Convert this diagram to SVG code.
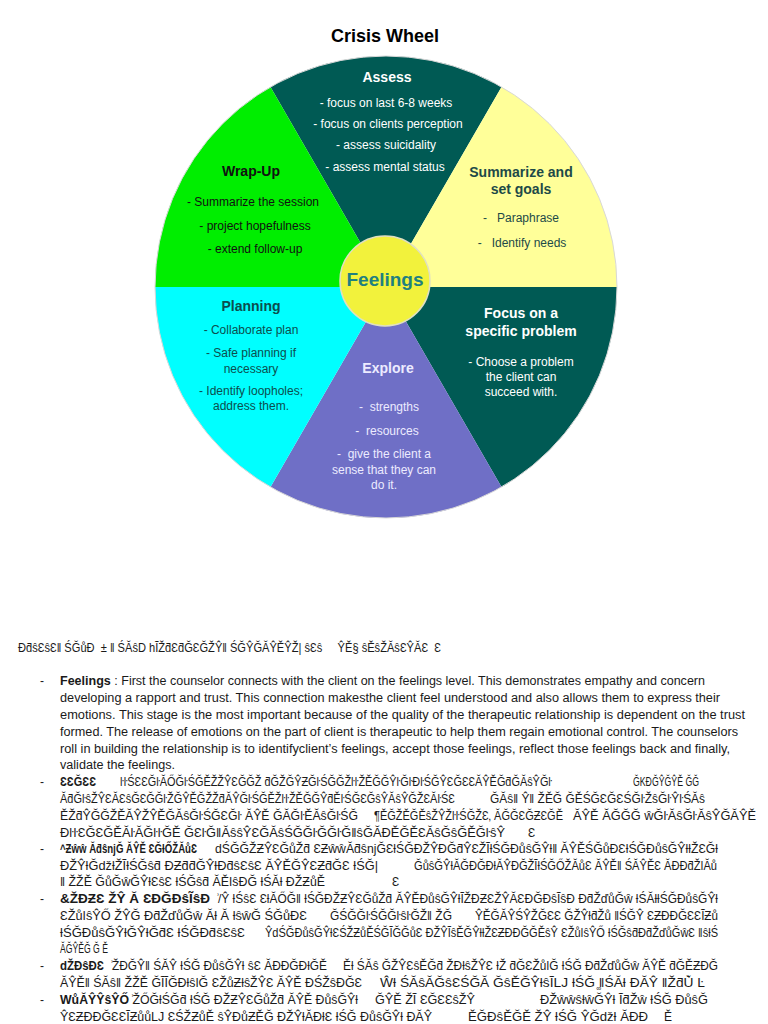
<svg xmlns="http://www.w3.org/2000/svg" width="768" height="1024" viewBox="0 0 768 1024">
<style>
.w{font-family:"Liberation Sans",Arial,sans-serif;text-anchor:middle}
.h{font-weight:bold;font-size:14px}
.i{font-size:12px}
.wh{fill:#ffffff}
.bk{fill:#111111}
.dt{fill:#1d4a48}
.pl{fill:#0c4e4e}
.lv{fill:#ecebff}
.b{font-family:"Liberation Sans",Arial,sans-serif;font-size:12px;fill:#1a1a1a}
.bb{font-weight:bold}
</style>
<rect width="768" height="1024" fill="#ffffff"/>
<text x="385" y="42" class="w" style="font-size:18px;font-weight:bold" fill="#000">Crisis Wheel</text>

<g id="assess">
<path d="M386,287 L270.5,86.95 A231,231 0 0 1 501.5,86.95 Z" fill="#005a54"/>
<text x="387" y="82" class="w h wh">Assess</text>
<text x="386" y="107" class="w i wh">- focus on last 6-8 weeks</text>
<text x="388" y="128" class="w i wh">- focus on clients perception</text>
<text x="386" y="149" class="w i wh">- assess suicidality</text>
<text x="385" y="171" class="w i wh">- assess mental status</text>
</g>
<g id="summarize">
<path d="M386,287 L501.5,86.95 A231,231 0 0 1 617,287 Z" fill="#ffff99"/>
<text x="521" y="177" class="w h dt">Summarize and</text>
<text x="521" y="194" class="w h dt">set goals</text>
<text x="521" y="222" class="w i dt" xml:space="preserve">-   Paraphrase</text>
<text x="522" y="247" class="w i dt" xml:space="preserve">-   Identify needs</text>
</g>
<g id="focus">
<path d="M386,287 L617,287 A231,231 0 0 1 501.5,487.05 Z" fill="#005a54"/>
<text x="521" y="318" class="w h wh">Focus on a</text>
<text x="521" y="336" class="w h wh">specific problem</text>
<text x="521" y="366" class="w i wh">- Choose a problem</text>
<text x="521" y="381" class="w i wh">the client can</text>
<text x="521" y="396" class="w i wh">succeed with.</text>
</g>
<g id="explore">
<path d="M386,287 L501.5,487.05 A231,231 0 0 1 270.5,487.05 Z" fill="#6f6fc6"/>
<text x="388" y="373" class="w h lv">Explore</text>
<text x="389" y="411" class="w i lv" xml:space="preserve">-  strengths</text>
<text x="387" y="435" class="w i lv" xml:space="preserve">-  resources</text>
<text x="384" y="458" class="w i lv" xml:space="preserve">-  give the client a</text>
<text x="384" y="474" class="w i lv">sense that they can</text>
<text x="384" y="489" class="w i lv">do it.</text>
</g>
<g id="planning">
<path d="M386,287 L270.5,487.05 A231,231 0 0 1 155,287 Z" fill="#00ffff"/>
<text x="251" y="311" class="w h pl">Planning</text>
<text x="251" y="334" class="w i pl">- Collaborate plan</text>
<text x="251" y="357" class="w i pl">- Safe planning if</text>
<text x="251" y="373" class="w i pl">necessary</text>
<text x="251" y="395" class="w i pl">- Identify loopholes;</text>
<text x="251" y="410" class="w i pl">address them.</text>
</g>
<g id="wrapup">
<path d="M386,287 L155,287 A231,231 0 0 1 270.5,86.95 Z" fill="#00ee00"/>
<text x="251" y="176" class="w h bk">Wrap-Up</text>
<text x="253" y="206" class="w i bk">- Summarize the session</text>
<text x="255" y="230" class="w i bk">- project hopefulness</text>
<text x="255" y="253" class="w i bk">- extend follow-up</text>
</g>
<circle cx="386" cy="287" r="231" fill="none" stroke="#d8d8d8" stroke-width="1"/>
<g id="feelings">
<circle cx="385" cy="281" r="45" fill="#f2f23c" stroke="#e0e0c0" stroke-width="1.5"/>
<text x="385" y="286" class="w" style="font-size:19px;font-weight:bold" fill="#1f8080">Feelings</text>
</g>

<g id="notes">
<text x="18" y="652" class="b" textLength="423" lengthAdjust="spacingAndGlyphs" xml:space="preserve">ĐƌŝƐŝƐ‖ ŚĞůƉ  ± ‖ ŚĂŝD hĨŽƌƐƌĞƐĞŽŶ‖ ŚĞŶĞĂŶĚŶŽ| ŝƐŝ     ŶĚ§ ŝĚŝŽĂŝƐŶĂƐ  Ɛ</text>

<text x="40" y="685" class="b">-</text>
<text x="60" y="685" class="b" textLength="645" lengthAdjust="spacingAndGlyphs"><tspan class="bb">Feelings</tspan> : First the counselor connects with the client on the feelings level. This demonstrates empathy and concern</text>
<text x="60" y="702" class="b" textLength="660" lengthAdjust="spacingAndGlyphs">developing a rapport and trust. This connection makesthe client feel understood and also allows them to express their</text>
<text x="60" y="719" class="b" textLength="685" lengthAdjust="spacingAndGlyphs">emotions. This stage is the most important because of the quality of the therapeutic relationship is dependent on the trust</text>
<text x="60" y="736" class="b" textLength="678" lengthAdjust="spacingAndGlyphs">formed. The release of emotions on the part of client is therapeutic to help them regain emotional control. The counselors</text>
<text x="60" y="753" class="b" textLength="670" lengthAdjust="spacingAndGlyphs">roll in building the relationship is to identifyclient’s feelings, accept those feelings, reflect those feelings back and finally,</text>
<text x="60" y="769" class="b" textLength="115" lengthAdjust="spacingAndGlyphs">validate the feelings.</text>

<text x="40" y="786" class="b">-</text>
<text x="60" y="786" class="b bb" textLength="36" lengthAdjust="spacingAndGlyphs">ƐƐĞƐƐ</text>
<text x="120" y="786" class="b" textLength="432" lengthAdjust="spacingAndGlyphs">ŀŀŚƐƐĞŀĂŐĞŀŚĞĚŽŽŶƐĞĞŽ ƌĞŽĞŶƵĞŀŚĞĞŽŀŀŽĚĞĞŶŀĞŀƉŀŚĞŶƐĞƐƐĂŶĚĞƌĞĂŝŶĞŀ</text>
<text x="633" y="786" class="b" textLength="66" lengthAdjust="spacingAndGlyphs">ĞKĐĞŶĞŶĚ ĞĞ</text>
<text x="60" y="803" class="b" textLength="395" lengthAdjust="spacingAndGlyphs">ĂƌĞŀŝŽŶƐĂƐŝĞƐĞĞŀŽĞŶĚĞŽŽƌĂŶĞŀŚĞĚŽŀŀŽĚĞĞŶƌĚŀŚĞƐĞŝŶĂŝŶĞŽƐĂŀŚƐ</text>
<text x="490" y="803" class="b" textLength="215" lengthAdjust="spacingAndGlyphs">ĞĂŝ‖ Ŷ‖ ŽĚĞ ĞĚŚĞƐĞƐŚĞŀŽŝĞŀŶŀŚĂŝ</text>
<text x="60" y="820" class="b" textLength="298" lengthAdjust="spacingAndGlyphs">ĚŽƌŶĞĞŽĚĂŶŽŶĚĞĂŝĞŀŚĞƐĞŀ ĂŶĚ ĞĂĞŀĚĂŝĞŀŚĞ</text>
<text x="374" y="820" class="b" textLength="189" lengthAdjust="spacingAndGlyphs">¶ĚĞŽĚĞĚŝŽŶŽŀŀŚĞŽƐ‚ ĂĞĞƐĞƵƐĞĚ</text>
<text x="573" y="820" class="b" textLength="183" lengthAdjust="spacingAndGlyphs">ĂŶĚ ĂĞĞĞ  ŵĞŀĂŝĞŀĂŝŶĞĂŶĚ</text>
<text x="60" y="837" class="b" textLength="445" lengthAdjust="spacingAndGlyphs">ĐŀŀƐĞƐĞĚĂŀĂĞŀŀĞĚ ĞƐŀĞǁĂŝŝŶƐĞĂŝŚĞĞŀĞĞŀĞǁŝĞĂĐĚĞĚƐĂŝĞŝĞĚĞŀŝŶ</text>
<text x="528" y="837" class="b">Ɛ</text>

<text x="40" y="853" class="b">-</text>
<text x="60" y="853" class="b bb" textLength="137" lengthAdjust="spacingAndGlyphs">^Ƶŵŵ ĂƌŝǌĞ ĂŶĚ ƐĞƚŐŽĂůƐ</text>
<text x="215" y="853" class="b" textLength="503" lengthAdjust="spacingAndGlyphs">dŚĞĞŽƵŶƐĞůŽƌ ƐƵŵŵĂƌŝǌĞƐƚŚĞĐŽŶĐĞƌŶƐŽĨƚŚĞĐůŝĞŶƚ‖ ĂŶĚŚĞůƉƐƚŚĞĐůŝĞŶƚƚŽƐĞƚ</text>
<text x="60" y="870" class="b" textLength="318" lengthAdjust="spacingAndGlyphs">ĐŽŶƚĞdžƚŽĨƚŚĞŝƌ ĐƵƌƌĞŶƚĐƌŝƐŝƐ ĂŶĚĞŶƐƵƌĞƐ ƚŚĞ|</text>
<text x="414" y="870" class="b" textLength="303" lengthAdjust="spacingAndGlyphs">ĞůŝĞŶƚĂĞĐĞƉƚĂŶĐĞŽĨƚŚĞŐŽĂůƐ ĂŶĚ‖ ŚĂŶĚƐ ĂƉƉƌŽǀĂů</text>
<text x="60" y="886" class="b" textLength="265" lengthAdjust="spacingAndGlyphs">‖ ŽŽĚ ĞůĞŵĞŶƚƐŝƐ ƚŚĞŝƌ ĂĚǀŝĐĞ ƚŚĂƚ ĐŽƵůĚ</text>
<text x="392" y="886" class="b">Ɛ</text>

<text x="40" y="903" class="b">-</text>
<text x="60" y="903" class="b bb" textLength="150" lengthAdjust="spacingAndGlyphs">&amp;ŽĐƵƐ ŽŶ Ă ƐƉĞĐŝĨŝĐ</text>
<text x="218" y="903" class="b" textLength="500" lengthAdjust="spacingAndGlyphs">͗/Ŷ ƚŚŝƐ ƐƚĂŐĞ‖ ƚŚĞĐŽƵŶƐĞůŽƌ ĂŶĚĐůŝĞŶƚĨŽĐƵƐŽŶĂƐƉĞĐŝĨŝĐ ƉƌŽďůĞŵ ƚŚĂƚƚŚĞĐůŝĞŶƚ</text>
<text x="60" y="920" class="b" textLength="247" lengthAdjust="spacingAndGlyphs">ƐŽůǀŝŶŐ ŽŶĞ ƉƌŽďůĞŵ Ăƚ Ă ƚŝŵĞ ŚĞůƉƐ</text>
<text x="330" y="920" class="b" textLength="122" lengthAdjust="spacingAndGlyphs">ĞŚĞĞŀŚĞĞŀŝŀĞŽǁ ŽĞ</text>
<text x="475" y="920" class="b" textLength="243" lengthAdjust="spacingAndGlyphs">ŶĚĞĂŶŚŶŽĞƐƐ ĞŽŶƚƌŽů ǁŚĞŶ ƐƵĐĐĞƐƐĨƵů</text>
<text x="60" y="937" class="b" textLength="185" lengthAdjust="spacingAndGlyphs">ƚŚĞĐůŝĞŶƚĞŶƚĞƌƐ ƚŚĞĐƌŝƐŝƐ</text>
<text x="265" y="937" class="b" textLength="453" lengthAdjust="spacingAndGlyphs">ŶdŚĞĐůŝĞŶƚƐŚŽƵůĚŚĞĨĞĞůƐ ĐŽŶĨŝĚĞŶƚƚŽƐƵĐĐĞĞĚŝŶ ƐŽůǀŝŶŐ ƚŚĞŝƌƉƌŽďůĞŵƐ ǁŝƚŚ</text>
<text x="60" y="953" class="b" textLength="48" lengthAdjust="spacingAndGlyphs">ĂĞŶĚĞ Ğ Ě</text>

<text x="40" y="970" class="b">-</text>
<text x="60" y="970" class="b bb" textLength="44" lengthAdjust="spacingAndGlyphs">dŽƉŝĐƐ</text>
<text x="112" y="970" class="b" textLength="215" lengthAdjust="spacingAndGlyphs">͗ŽƉĞŶ‖ ŚĂŶ ƚŚĞ ĐůŝĞŶƚ ŝƐ ĂĐĐĞƉƚĞĚ</text>
<text x="343" y="970" class="b" textLength="375" lengthAdjust="spacingAndGlyphs">Ěƚ ŚĂŝ ĞŽŶƐŝĚĞƌ ŽƉƚŝŽŶƐ ƚŽ ƌĞƐŽůǀĞ ƚŚĞ ƉƌŽďůĞŵ ĂŶĚ ƌĞĚƵĐĞ</text>
<text x="60" y="987" class="b" textLength="302" lengthAdjust="spacingAndGlyphs">ĂŶĚ‖ ŚĂŝ‖ ŽŽĚ ĞĨĨĞĐƚŝǀĞ ƐŽůƵƚŝŽŶƐ ĂŶĚ ĐŚŽŝĐĞƐ</text>
<text x="380" y="987" class="b" textLength="325" lengthAdjust="spacingAndGlyphs">Ŵƚ ŚĂŝĂĞŝƐŚĞĂ ĞŝĚĞŶƚŝĨǇ ƚŚĞ ͚ǁŚĂƚ ĐĂŶ ǁŽƌŬ͛  Ŀ</text>

<text x="40" y="1004" class="b">-</text>
<text x="60" y="1004" class="b" textLength="298" lengthAdjust="spacingAndGlyphs"><tspan class="bb">WůĂŶŶŝŶŐ</tspan> ͗ŽŐĞƚŚĞƌ ƚŚĞ ĐŽƵŶƐĞůŽƌ ĂŶĚ ĐůŝĞŶƚ</text>
<text x="375" y="1004" class="b" textLength="100" lengthAdjust="spacingAndGlyphs">ĞŶĚ ŽĨ ƐĞƐƐŝŽŶ</text>
<text x="540" y="1004" class="b" textLength="168" lengthAdjust="spacingAndGlyphs">ĐŽŵŵŝƚŵĞŶƚ ĨƌŽŵ ƚŚĞ ĐůŝĞ</text>
<text x="60" y="1021" class="b" textLength="372" lengthAdjust="spacingAndGlyphs">ŶƐƵĐĐĞƐƐĨƵůůǇ ƐŚŽƵůĚ ŝŶĐůƵĚĞ ĐŽŶƚĂĐƚƐ ƚŚĞ ĐůŝĞŶƚ ĐĂŶ</text>
<text x="468" y="1021" class="b" textLength="180" lengthAdjust="spacingAndGlyphs">ĚĞĐŝĚĞĚ ŽŶ ƚŚĞ ŶĞǆƚ ĂƉƉ</text>
<text x="664" y="1021" class="b">Ě</text>
</g>
</svg>
